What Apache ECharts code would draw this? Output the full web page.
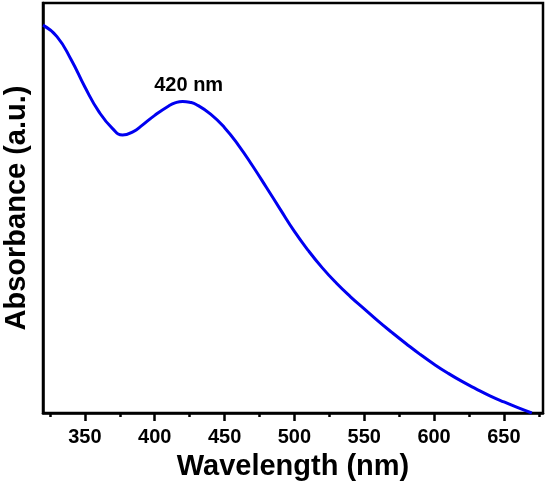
<!DOCTYPE html>
<html>
<head>
<meta charset="utf-8">
<script src="https://cdn.jsdelivr.net/npm/echarts@6/dist/echarts.min.js"></script>
<style>html,body{margin:0;padding:0;background:#fff}#c{width:550px;height:485px}</style>
</head>
<body>
<div id="c"></div>
<script>
var wavelengths = [320, 330, 340, 350, 360, 370, 377, 385, 390, 400, 410, 415, 420, 425, 430, 440, 450, 460, 470, 480, 490, 500, 510, 520, 530, 540, 550, 560, 570, 580, 590, 600, 610, 620, 630, 640, 650, 660, 670];
var absorbance = [0.946, 0.918, 0.863, 0.795, 0.735, 0.693, 0.678, 0.687, 0.699, 0.726, 0.749, 0.757, 0.760, 0.758, 0.752, 0.729, 0.696, 0.653, 0.603, 0.550, 0.496, 0.443, 0.396, 0.354, 0.317, 0.284, 0.254, 0.224, 0.196, 0.169, 0.143, 0.119, 0.097, 0.077, 0.059, 0.042, 0.027, 0.013, 0.000];
var majorTicks = [350, 400, 450, 500, 550, 600, 650];
var minorTicks = [325, 375, 425, 475, 525, 575, 625, 675];
var peakLabel = '420 nm';
var peakWavelength = 420;
var peakValue = 0.760;

var data = wavelengths.map(function (w, i) { return [w, absorbance[i]]; });
var font = '"Liberation Sans", Arial, sans-serif';
var chart = echarts.init(document.getElementById('c'));
chart.setOption({
  animation: false,
  grid: { left: 43, right: 7, top: 3, bottom: 72, show: true, borderColor: '#000', borderWidth: 2.5, containLabel: false, outerBoundsMode: 'none' },
  xAxis: [{
    type: 'value', min: 320, max: 678, position: 'bottom',
    name: 'Wavelength (nm)', nameLocation: 'middle', nameGap: 39,
    nameTextStyle: { fontFamily: font, fontWeight: 'bold', fontSize: 29, color: '#000' },
    axisLine: { show: true, lineStyle: { color: '#000', width: 2.5 } },
    axisTick: { show: true, inside: false, length: 8, customValues: majorTicks, lineStyle: { color: '#000', width: 2.5 } },
    axisLabel: { show: true, customValues: majorTicks, margin: 14, fontFamily: font, fontWeight: 'bold', fontSize: 20, color: '#000' },
    splitLine: { show: false }
  }, {
    type: 'value', min: 320, max: 678, position: 'bottom',
    axisLine: { show: false },
    axisTick: { show: true, inside: false, length: 4, customValues: minorTicks, lineStyle: { color: '#000', width: 2.5 } },
    axisLabel: { show: false },
    splitLine: { show: false }
  }],
  yAxis: {
    type: 'value', min: 0, max: 1,
    name: 'Absorbance (a.u.)', nameLocation: 'middle', nameGap: 12,
    nameTextStyle: { fontFamily: font, fontWeight: 'bold', fontSize: 29, color: '#000' },
    axisLine: { show: true, lineStyle: { color: '#000', width: 2.5 } },
    axisTick: { show: false }, axisLabel: { show: false }, splitLine: { show: false }
  },
  series: [{
    type: 'line', xAxisIndex: 0, data: data, smooth: true, symbol: 'none', clip: true,
    lineStyle: { color: '#0000F0', width: 3 },
    markPoint: {
      symbol: 'circle', symbolSize: 0,
      data: [{ coord: [peakWavelength, peakValue], value: peakLabel }],
      label: { show: true, formatter: peakLabel, position: 'top', distance: 0, offset: [6, -6], fontFamily: font, fontWeight: 'bold', fontSize: 20, color: '#000' }
    }
  }]
});
</script>
</body>
</html>
